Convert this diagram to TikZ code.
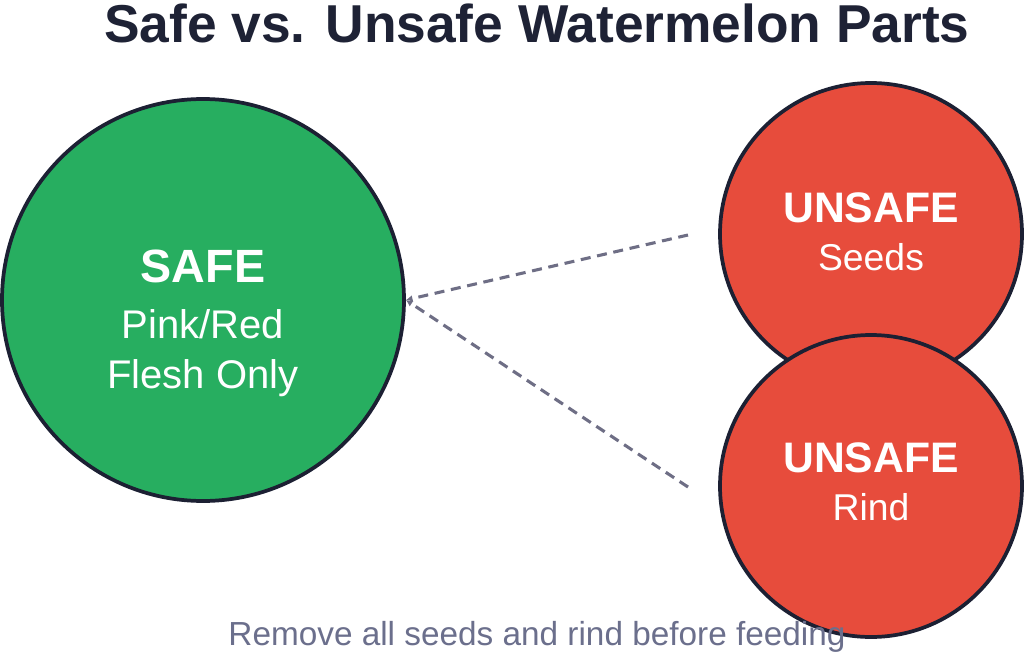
\documentclass[tikz,border=0pt]{standalone}
\usepackage{fontspec}
\setmainfont{Liberation Sans}
\usetikzlibrary{arrows.meta}
\definecolor{safegreen}{HTML}{27AE60}
\definecolor{unsafered}{HTML}{E74C3C}
\definecolor{outline}{HTML}{1C2033}
\definecolor{titlecol}{HTML}{1E2235}
\definecolor{dashcol}{HTML}{6E6E85}
\definecolor{footcol}{HTML}{6B6F8C}
\tikzset{
  circ/.style={circle, draw=outline, line width=2.8pt, inner sep=0pt},
  headtxt/.style={anchor=base, text=white, font=\fontsize{32}{38}\selectfont\bfseries},
  subtxt/.style={anchor=base, text=white, font=\fontsize{28}{34}\selectfont},
  bighead/.style={anchor=base, text=white, font=\fontsize{35}{41}\selectfont\bfseries},
  bigsub/.style={anchor=base, text=white, font=\fontsize{30}{36}\selectfont},
  link/.style={dashcol, line width=2.3pt, dash pattern=on 7.5pt off 5pt, -{Latex[length=5pt,width=5pt]}}
}
\begin{document}
\begin{tikzpicture}[x=0.75pt,y=-0.75pt]
\useasboundingbox[fill=white] (0,0) rectangle (1024,653);
\node[anchor=base, text=titlecol, font=\fontsize{40}{47}\selectfont\bfseries] (title) at (537,42) {Safe vs. Unsafe Watermelon Parts};
\node[circ, fill=safegreen, minimum size=301.5pt] (safe) at (203,300) {};
\node[circ, fill=unsafered, minimum size=226.5pt] (seeds) at (871,234) {};
\node[circ, fill=unsafered, minimum size=226.5pt] (rind) at (871,486) {};
\node[bighead] (safeh) at (203,282) {SAFE};
\node[bigsub] (safe1) at (203,338) {Pink/Red};
\node[bigsub] (safe2) at (203,388) {Flesh Only};
\node[headtxt] (seedsh) at (871,222) {UNSAFE};
\node[subtxt] (seeds1) at (871,270) {Seeds};
\node[headtxt] (rindh) at (871,472) {UNSAFE};
\node[subtxt] (rind1) at (871,520) {Rind};
\coordinate (s1) at (688,235);
\coordinate (s2) at (688,487);
\draw[link] (s2) -- (safe.east);
\draw[link] (s1) -- (safe.east);
\node[anchor=base, text=footcol, font=\fontsize{25}{30}\selectfont] (foot) at (537,645) {Remove all seeds and rind before feeding};
\end{tikzpicture}
\end{document}
